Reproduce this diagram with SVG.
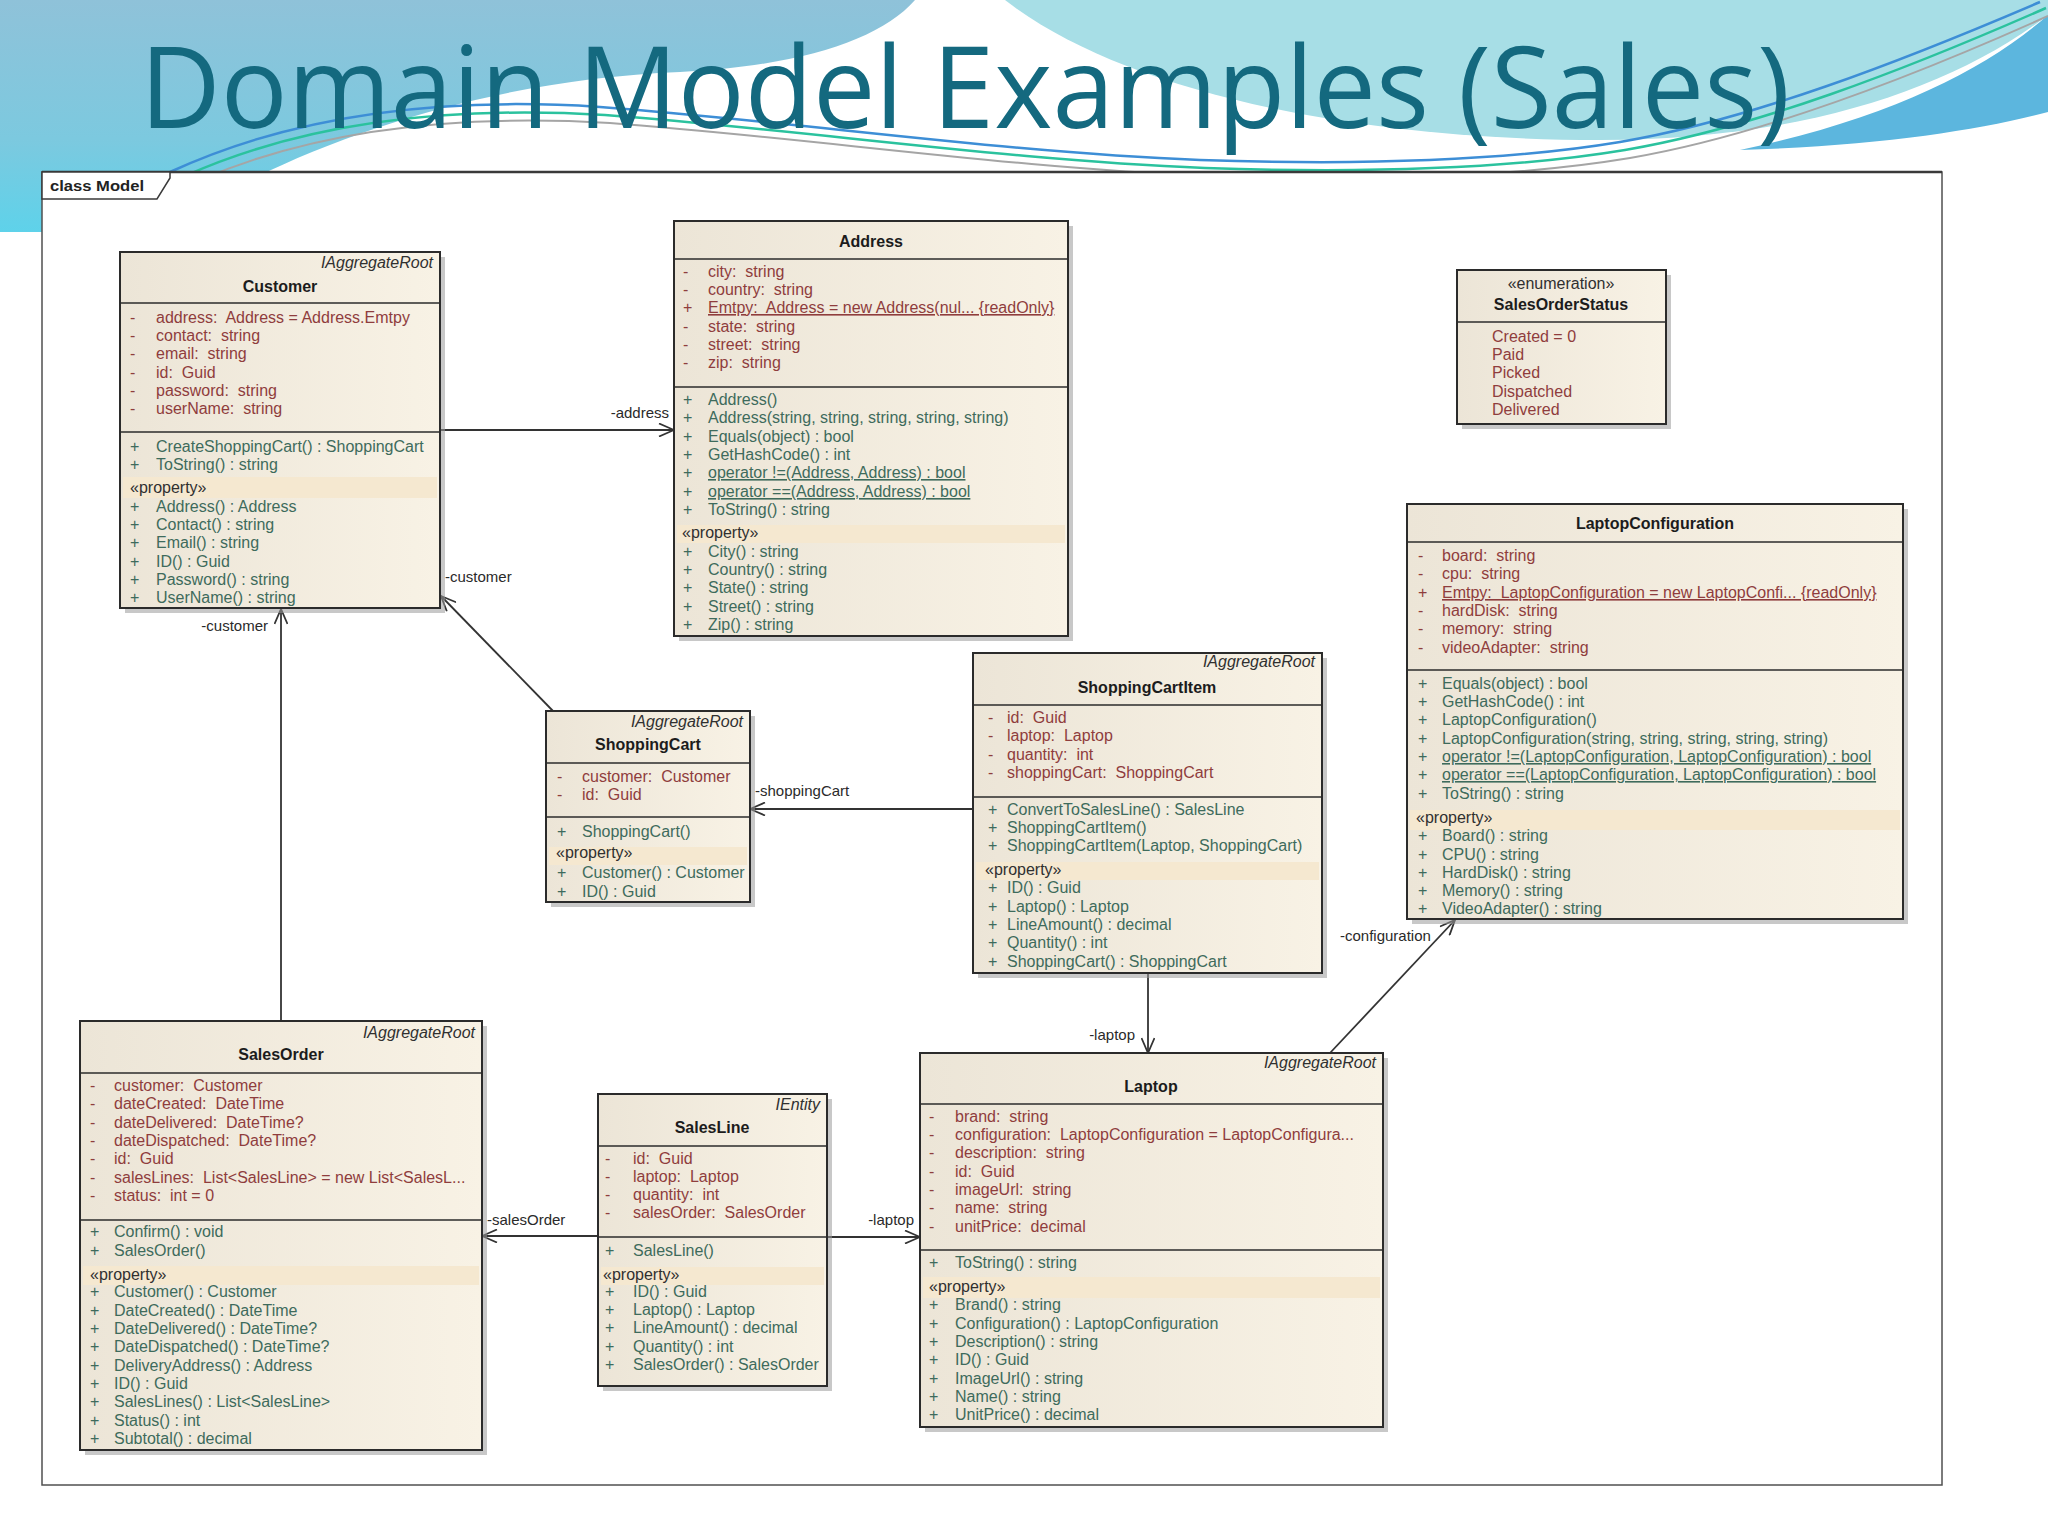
<svg xmlns="http://www.w3.org/2000/svg" width="2048" height="1536" viewBox="0 0 2048 1536">
<defs>
<linearGradient id="sky" x1="0" y1="0" x2="0" y2="1">
<stop offset="0" stop-color="#8FC2D9"/><stop offset="0.6" stop-color="#7CC9DF"/><stop offset="1" stop-color="#5ED2EA"/>
</linearGradient>
<linearGradient id="bg" x1="0" y1="0" x2="1" y2="0">
<stop offset="0" stop-color="#ECE5D7"/><stop offset="1" stop-color="#F8F2E5"/>
</linearGradient>
<marker id="arr" viewBox="0 0 18 14" refX="16" refY="7" markerWidth="18" markerHeight="14" markerUnits="userSpaceOnUse" orient="auto">
<path d="M1,0.5 L16,7 L1,13.5" fill="none" stroke="#333" stroke-width="1.8"/>
</marker>
<style>
text{font-family:"Liberation Sans",Arial,sans-serif;font-size:16px}
.box{fill:url(#bg);stroke:#2b2b2b;stroke-width:2}
.sh{fill:#9a9a9a;opacity:.55}
.div{stroke:#2b2b2b;stroke-width:1.6}
.band{fill:#F5E8D0}
.a{fill:#8F3D3D}
.m{fill:#3E6B5C}
.st{fill:#303030}
.nm{font-weight:bold;fill:#1c1c1c;text-anchor:middle}
.it{font-style:italic;fill:#303030;text-anchor:end}
.u{text-decoration:underline}
.lbl{fill:#2a2a2a;font-size:15px}
.con{stroke:#333;stroke-width:1.8;fill:none;marker-end:url(#arr)}
</style>
</defs>
<rect x="0" y="0" width="2048" height="1536" fill="#ffffff"/>
<g id="background">
<path d="M0,0 H915 C880,40 800,66 680,72 C480,80 290,145 160,232 H0 Z" fill="url(#sky)"/>
<path d="M1005,0 H2048 V15 C1950,90 1800,140 1600,140 C1350,140 1120,90 1005,0 Z" fill="#A7DEE6"/>
<path d="M2048,15 V112 C1980,130 1880,146 1740,150 C1890,118 1985,70 2048,15 Z" fill="#5CB6DE"/>
<path d="M170,172 C300,112 450,97 600,107 C800,122 1000,152 1200,160 C1350,165 1500,162 1620,142 C1750,120 1900,62 2040,2" fill="none" stroke="#3D8ED6" stroke-width="2.5"/>
<path d="M185,176 C310,120 455,106 605,115 C805,130 1005,160 1205,168 C1355,173 1505,170 1625,150 C1755,128 1905,70 2046,8" fill="none" stroke="#2BC29E" stroke-width="2.5"/>
<path d="M200,180 C320,128 460,114 610,123 C810,138 1010,168 1210,176 C1360,181 1510,178 1630,158 C1760,136 1910,78 2048,16" fill="none" stroke="#A5A5A5" stroke-width="2"/>
<text x="140" y="128" fill="#14697F" style="font-family:'Open Sans','DejaVu Sans',sans-serif;font-size:113px" textLength="1650" lengthAdjust="spacingAndGlyphs">Domain Model Examples (Sales)</text>
</g>
<g id="frame">
<rect x="42" y="172" width="1900" height="1313" fill="#ffffff" stroke="#505050" stroke-width="1.5"/>
<line x1="42" y1="172" x2="1942" y2="172" stroke="#3a3a3a" stroke-width="2.5"/>
<polygon points="42,172 170,172 170,178 157,199 42,199" fill="#ffffff" stroke="#3a3a3a" stroke-width="1.5"/>
<text x="50" y="191" style="font-size:14px;font-weight:bold" fill="#222" textLength="94" lengthAdjust="spacingAndGlyphs">class Model</text>
</g>
<g id="connectors">
<line class="con" x1="440" y1="430" x2="674" y2="430"/>
<text class="lbl" x="669" y="418" text-anchor="end">-address</text>
<line class="con" x1="553" y1="711" x2="441" y2="596"/>
<text class="lbl" x="445" y="582">-customer</text>
<line class="con" x1="281" y1="1021" x2="281" y2="609"/>
<text class="lbl" x="268" y="631" text-anchor="end">-customer</text>
<line class="con" x1="973" y1="809" x2="750" y2="809"/>
<text class="lbl" x="755" y="796">-shoppingCart</text>
<line class="con" x1="1148" y1="973" x2="1148" y2="1053"/>
<text class="lbl" x="1135" y="1040" text-anchor="end">-laptop</text>
<line class="con" x1="1330" y1="1053" x2="1455" y2="920"/>
<text class="lbl" x="1340" y="941">-configuration</text>
<line class="con" x1="598" y1="1236" x2="482" y2="1236"/>
<text class="lbl" x="487" y="1225">-salesOrder</text>
<line class="con" x1="827" y1="1237" x2="920" y2="1237"/>
<text class="lbl" x="914" y="1225" text-anchor="end">-laptop</text>
</g>
<g id="customer">
<rect class="sh" x="125" y="257" width="320" height="356"/>
<rect class="box" x="120" y="252" width="320" height="356"/>
<line class="div" x1="120" y1="303" x2="440" y2="303"/>
<line class="div" x1="120" y1="432" x2="440" y2="432"/>
<rect class="band" x="123" y="477" width="314" height="21"/>
<text class="it" x="433" y="268">IAggregateRoot</text>
<text class="nm" x="280" y="292">Customer</text>
<text class="a"><tspan x="130" y="323">-</tspan><tspan x="130" y="341">-</tspan><tspan x="130" y="359">-</tspan><tspan x="130" y="378">-</tspan><tspan x="130" y="396">-</tspan><tspan x="130" y="414">-</tspan></text>
<text class="a"><tspan x="156" y="323">address:&#160; Address = Address.Emtpy</tspan><tspan x="156" y="341">contact:&#160; string</tspan><tspan x="156" y="359">email:&#160; string</tspan><tspan x="156" y="378">id:&#160; Guid</tspan><tspan x="156" y="396">password:&#160; string</tspan><tspan x="156" y="414">userName:&#160; string</tspan></text>
<text class="m"><tspan x="130" y="452">+</tspan><tspan x="130" y="470">+</tspan><tspan x="130" y="512">+</tspan><tspan x="130" y="530">+</tspan><tspan x="130" y="548">+</tspan><tspan x="130" y="567">+</tspan><tspan x="130" y="585">+</tspan><tspan x="130" y="603">+</tspan></text>
<text class="m"><tspan x="156" y="452">CreateShoppingCart() : ShoppingCart</tspan><tspan x="156" y="470">ToString() : string</tspan><tspan x="156" y="512">Address() : Address</tspan><tspan x="156" y="530">Contact() : string</tspan><tspan x="156" y="548">Email() : string</tspan><tspan x="156" y="567">ID() : Guid</tspan><tspan x="156" y="585">Password() : string</tspan><tspan x="156" y="603">UserName() : string</tspan></text>
<text class="st" x="130" y="493">«property»</text>
</g>
<g id="address">
<rect class="sh" x="679" y="226" width="394" height="415"/>
<rect class="box" x="674" y="221" width="394" height="415"/>
<line class="div" x1="674" y1="259" x2="1068" y2="259"/>
<line class="div" x1="674" y1="387" x2="1068" y2="387"/>
<rect class="band" x="677" y="525" width="388" height="18"/>
<text class="nm" x="871" y="247">Address</text>
<text class="a"><tspan x="683" y="277">-</tspan><tspan x="683" y="295">-</tspan><tspan x="683" y="313">+</tspan><tspan x="683" y="332">-</tspan><tspan x="683" y="350">-</tspan><tspan x="683" y="368">-</tspan></text>
<text class="a"><tspan x="708" y="277">city:&#160; string</tspan><tspan x="708" y="295">country:&#160; string</tspan><tspan class="u" x="708" y="313">Emtpy:&#160; Address = new Address(nul... {readOnly}</tspan><tspan x="708" y="332">state:&#160; string</tspan><tspan x="708" y="350">street:&#160; string</tspan><tspan x="708" y="368">zip:&#160; string</tspan></text>
<text class="m"><tspan x="683" y="405">+</tspan><tspan x="683" y="423">+</tspan><tspan x="683" y="442">+</tspan><tspan x="683" y="460">+</tspan><tspan x="683" y="478">+</tspan><tspan x="683" y="497">+</tspan><tspan x="683" y="515">+</tspan><tspan x="683" y="557">+</tspan><tspan x="683" y="575">+</tspan><tspan x="683" y="593">+</tspan><tspan x="683" y="612">+</tspan><tspan x="683" y="630">+</tspan></text>
<text class="m"><tspan x="708" y="405">Address()</tspan><tspan x="708" y="423">Address(string, string, string, string, string)</tspan><tspan x="708" y="442">Equals(object) : bool</tspan><tspan x="708" y="460">GetHashCode() : int</tspan><tspan class="u" x="708" y="478">operator !=(Address, Address) : bool</tspan><tspan class="u" x="708" y="497">operator ==(Address, Address) : bool</tspan><tspan x="708" y="515">ToString() : string</tspan><tspan x="708" y="557">City() : string</tspan><tspan x="708" y="575">Country() : string</tspan><tspan x="708" y="593">State() : string</tspan><tspan x="708" y="612">Street() : string</tspan><tspan x="708" y="630">Zip() : string</tspan></text>
<text class="st" x="682" y="538">«property»</text>
</g>
<g id="salesorderstatus">
<rect class="sh" x="1462" y="275" width="209" height="154"/>
<rect class="box" x="1457" y="270" width="209" height="154"/>
<line class="div" x1="1457" y1="322" x2="1666" y2="322"/>
<text class="st" x="1561" y="289" text-anchor="middle">«enumeration»</text>
<text class="nm" x="1561" y="310">SalesOrderStatus</text>
<text class="a"><tspan x="1492" y="342">Created = 0</tspan><tspan x="1492" y="360">Paid</tspan><tspan x="1492" y="378">Picked</tspan><tspan x="1492" y="397">Dispatched</tspan><tspan x="1492" y="415">Delivered</tspan></text>
</g>
<g id="laptopconfiguration">
<rect class="sh" x="1412" y="509" width="496" height="415"/>
<rect class="box" x="1407" y="504" width="496" height="415"/>
<line class="div" x1="1407" y1="542" x2="1903" y2="542"/>
<line class="div" x1="1407" y1="670" x2="1903" y2="670"/>
<rect class="band" x="1410" y="810" width="490" height="20"/>
<text class="nm" x="1655" y="529">LaptopConfiguration</text>
<text class="a"><tspan x="1418" y="561">-</tspan><tspan x="1418" y="579">-</tspan><tspan x="1418" y="598">+</tspan><tspan x="1418" y="616">-</tspan><tspan x="1418" y="634">-</tspan><tspan x="1418" y="653">-</tspan></text>
<text class="a"><tspan x="1442" y="561">board:&#160; string</tspan><tspan x="1442" y="579">cpu:&#160; string</tspan><tspan class="u" x="1442" y="598">Emtpy:&#160; LaptopConfiguration = new LaptopConfi... {readOnly}</tspan><tspan x="1442" y="616">hardDisk:&#160; string</tspan><tspan x="1442" y="634">memory:&#160; string</tspan><tspan x="1442" y="653">videoAdapter:&#160; string</tspan></text>
<text class="m"><tspan x="1418" y="689">+</tspan><tspan x="1418" y="707">+</tspan><tspan x="1418" y="725">+</tspan><tspan x="1418" y="744">+</tspan><tspan x="1418" y="762">+</tspan><tspan x="1418" y="780">+</tspan><tspan x="1418" y="799">+</tspan><tspan x="1418" y="841">+</tspan><tspan x="1418" y="860">+</tspan><tspan x="1418" y="878">+</tspan><tspan x="1418" y="896">+</tspan><tspan x="1418" y="914">+</tspan></text>
<text class="m"><tspan x="1442" y="689">Equals(object) : bool</tspan><tspan x="1442" y="707">GetHashCode() : int</tspan><tspan x="1442" y="725">LaptopConfiguration()</tspan><tspan x="1442" y="744">LaptopConfiguration(string, string, string, string, string)</tspan><tspan class="u" x="1442" y="762">operator !=(LaptopConfiguration, LaptopConfiguration) : bool</tspan><tspan class="u" x="1442" y="780">operator ==(LaptopConfiguration, LaptopConfiguration) : bool</tspan><tspan x="1442" y="799">ToString() : string</tspan><tspan x="1442" y="841">Board() : string</tspan><tspan x="1442" y="860">CPU() : string</tspan><tspan x="1442" y="878">HardDisk() : string</tspan><tspan x="1442" y="896">Memory() : string</tspan><tspan x="1442" y="914">VideoAdapter() : string</tspan></text>
<text class="st" x="1416" y="823">«property»</text>
</g>
<g id="shoppingcart">
<rect class="sh" x="551" y="716" width="204" height="191"/>
<rect class="box" x="546" y="711" width="204" height="191"/>
<line class="div" x1="546" y1="763" x2="750" y2="763"/>
<line class="div" x1="546" y1="817" x2="750" y2="817"/>
<rect class="band" x="549" y="847" width="198" height="18"/>
<text class="it" x="743" y="727">IAggregateRoot</text>
<text class="nm" x="648" y="750">ShoppingCart</text>
<text class="a"><tspan x="557" y="782">-</tspan><tspan x="557" y="800">-</tspan></text>
<text class="a"><tspan x="582" y="782">customer:&#160; Customer</tspan><tspan x="582" y="800">id:&#160; Guid</tspan></text>
<text class="m"><tspan x="557" y="837">+</tspan><tspan x="557" y="878">+</tspan><tspan x="557" y="897">+</tspan></text>
<text class="m"><tspan x="582" y="837">ShoppingCart()</tspan><tspan x="582" y="878">Customer() : Customer</tspan><tspan x="582" y="897">ID() : Guid</tspan></text>
<text class="st" x="556" y="858">«property»</text>
</g>
<g id="shoppingcartitem">
<rect class="sh" x="978" y="658" width="349" height="320"/>
<rect class="box" x="973" y="653" width="349" height="320"/>
<line class="div" x1="973" y1="705" x2="1322" y2="705"/>
<line class="div" x1="973" y1="797" x2="1322" y2="797"/>
<rect class="band" x="976" y="862" width="343" height="18"/>
<text class="it" x="1315" y="667">IAggregateRoot</text>
<text class="nm" x="1147" y="693">ShoppingCartItem</text>
<text class="a"><tspan x="988" y="723">-</tspan><tspan x="988" y="741">-</tspan><tspan x="988" y="760">-</tspan><tspan x="988" y="778">-</tspan></text>
<text class="a"><tspan x="1007" y="723">id:&#160; Guid</tspan><tspan x="1007" y="741">laptop:&#160; Laptop</tspan><tspan x="1007" y="760">quantity:&#160; int</tspan><tspan x="1007" y="778">shoppingCart:&#160; ShoppingCart</tspan></text>
<text class="m"><tspan x="988" y="815">+</tspan><tspan x="988" y="833">+</tspan><tspan x="988" y="851">+</tspan><tspan x="988" y="893">+</tspan><tspan x="988" y="912">+</tspan><tspan x="988" y="930">+</tspan><tspan x="988" y="948">+</tspan><tspan x="988" y="967">+</tspan></text>
<text class="m"><tspan x="1007" y="815">ConvertToSalesLine() : SalesLine</tspan><tspan x="1007" y="833">ShoppingCartItem()</tspan><tspan x="1007" y="851">ShoppingCartItem(Laptop, ShoppingCart)</tspan><tspan x="1007" y="893">ID() : Guid</tspan><tspan x="1007" y="912">Laptop() : Laptop</tspan><tspan x="1007" y="930">LineAmount() : decimal</tspan><tspan x="1007" y="948">Quantity() : int</tspan><tspan x="1007" y="967">ShoppingCart() : ShoppingCart</tspan></text>
<text class="st" x="985" y="875">«property»</text>
</g>
<g id="salesorder">
<rect class="sh" x="85" y="1026" width="402" height="429"/>
<rect class="box" x="80" y="1021" width="402" height="429"/>
<line class="div" x1="80" y1="1073" x2="482" y2="1073"/>
<line class="div" x1="80" y1="1220" x2="482" y2="1220"/>
<rect class="band" x="83" y="1266" width="396" height="19"/>
<text class="it" x="475" y="1038">IAggregateRoot</text>
<text class="nm" x="281" y="1060">SalesOrder</text>
<text class="a"><tspan x="90" y="1091">-</tspan><tspan x="90" y="1109">-</tspan><tspan x="90" y="1128">-</tspan><tspan x="90" y="1146">-</tspan><tspan x="90" y="1164">-</tspan><tspan x="90" y="1183">-</tspan><tspan x="90" y="1201">-</tspan></text>
<text class="a"><tspan x="114" y="1091">customer:&#160; Customer</tspan><tspan x="114" y="1109">dateCreated:&#160; DateTime</tspan><tspan x="114" y="1128">dateDelivered:&#160; DateTime?</tspan><tspan x="114" y="1146">dateDispatched:&#160; DateTime?</tspan><tspan x="114" y="1164">id:&#160; Guid</tspan><tspan x="114" y="1183">salesLines:&#160; List&lt;SalesLine&gt; = new List&lt;SalesL...</tspan><tspan x="114" y="1201">status:&#160; int = 0</tspan></text>
<text class="m"><tspan x="90" y="1237">+</tspan><tspan x="90" y="1256">+</tspan><tspan x="90" y="1297">+</tspan><tspan x="90" y="1316">+</tspan><tspan x="90" y="1334">+</tspan><tspan x="90" y="1352">+</tspan><tspan x="90" y="1371">+</tspan><tspan x="90" y="1389">+</tspan><tspan x="90" y="1407">+</tspan><tspan x="90" y="1426">+</tspan><tspan x="90" y="1444">+</tspan></text>
<text class="m"><tspan x="114" y="1237">Confirm() : void</tspan><tspan x="114" y="1256">SalesOrder()</tspan><tspan x="114" y="1297">Customer() : Customer</tspan><tspan x="114" y="1316">DateCreated() : DateTime</tspan><tspan x="114" y="1334">DateDelivered() : DateTime?</tspan><tspan x="114" y="1352">DateDispatched() : DateTime?</tspan><tspan x="114" y="1371">DeliveryAddress() : Address</tspan><tspan x="114" y="1389">ID() : Guid</tspan><tspan x="114" y="1407">SalesLines() : List&lt;SalesLine&gt;</tspan><tspan x="114" y="1426">Status() : int</tspan><tspan x="114" y="1444">Subtotal() : decimal</tspan></text>
<text class="st" x="90" y="1280">«property»</text>
</g>
<g id="salesline">
<rect class="sh" x="603" y="1099" width="229" height="292"/>
<rect class="box" x="598" y="1094" width="229" height="292"/>
<line class="div" x1="598" y1="1146" x2="827" y2="1146"/>
<line class="div" x1="598" y1="1237" x2="827" y2="1237"/>
<rect class="band" x="601" y="1267" width="223" height="18"/>
<text class="it" x="820" y="1110">IEntity</text>
<text class="nm" x="712" y="1133">SalesLine</text>
<text class="a"><tspan x="605" y="1164">-</tspan><tspan x="605" y="1182">-</tspan><tspan x="605" y="1200">-</tspan><tspan x="605" y="1218">-</tspan></text>
<text class="a"><tspan x="633" y="1164">id:&#160; Guid</tspan><tspan x="633" y="1182">laptop:&#160; Laptop</tspan><tspan x="633" y="1200">quantity:&#160; int</tspan><tspan x="633" y="1218">salesOrder:&#160; SalesOrder</tspan></text>
<text class="m"><tspan x="605" y="1256">+</tspan><tspan x="605" y="1297">+</tspan><tspan x="605" y="1315">+</tspan><tspan x="605" y="1333">+</tspan><tspan x="605" y="1352">+</tspan><tspan x="605" y="1370">+</tspan></text>
<text class="m"><tspan x="633" y="1256">SalesLine()</tspan><tspan x="633" y="1297">ID() : Guid</tspan><tspan x="633" y="1315">Laptop() : Laptop</tspan><tspan x="633" y="1333">LineAmount() : decimal</tspan><tspan x="633" y="1352">Quantity() : int</tspan><tspan x="633" y="1370">SalesOrder() : SalesOrder</tspan></text>
<text class="st" x="603" y="1280">«property»</text>
</g>
<g id="laptop">
<rect class="sh" x="925" y="1058" width="463" height="374"/>
<rect class="box" x="920" y="1053" width="463" height="374"/>
<line class="div" x1="920" y1="1104" x2="1383" y2="1104"/>
<line class="div" x1="920" y1="1250" x2="1383" y2="1250"/>
<rect class="band" x="923" y="1277" width="457" height="21"/>
<text class="it" x="1376" y="1068">IAggregateRoot</text>
<text class="nm" x="1151" y="1092">Laptop</text>
<text class="a"><tspan x="929" y="1122">-</tspan><tspan x="929" y="1140">-</tspan><tspan x="929" y="1158">-</tspan><tspan x="929" y="1177">-</tspan><tspan x="929" y="1195">-</tspan><tspan x="929" y="1213">-</tspan><tspan x="929" y="1232">-</tspan></text>
<text class="a"><tspan x="955" y="1122">brand:&#160; string</tspan><tspan x="955" y="1140">configuration:&#160; LaptopConfiguration = LaptopConfigura...</tspan><tspan x="955" y="1158">description:&#160; string</tspan><tspan x="955" y="1177">id:&#160; Guid</tspan><tspan x="955" y="1195">imageUrl:&#160; string</tspan><tspan x="955" y="1213">name:&#160; string</tspan><tspan x="955" y="1232">unitPrice:&#160; decimal</tspan></text>
<text class="m"><tspan x="929" y="1268">+</tspan><tspan x="929" y="1310">+</tspan><tspan x="929" y="1329">+</tspan><tspan x="929" y="1347">+</tspan><tspan x="929" y="1365">+</tspan><tspan x="929" y="1384">+</tspan><tspan x="929" y="1402">+</tspan><tspan x="929" y="1420">+</tspan></text>
<text class="m"><tspan x="955" y="1268">ToString() : string</tspan><tspan x="955" y="1310">Brand() : string</tspan><tspan x="955" y="1329">Configuration() : LaptopConfiguration</tspan><tspan x="955" y="1347">Description() : string</tspan><tspan x="955" y="1365">ID() : Guid</tspan><tspan x="955" y="1384">ImageUrl() : string</tspan><tspan x="955" y="1402">Name() : string</tspan><tspan x="955" y="1420">UnitPrice() : decimal</tspan></text>
<text class="st" x="929" y="1292">«property»</text>
</g>
</svg>
